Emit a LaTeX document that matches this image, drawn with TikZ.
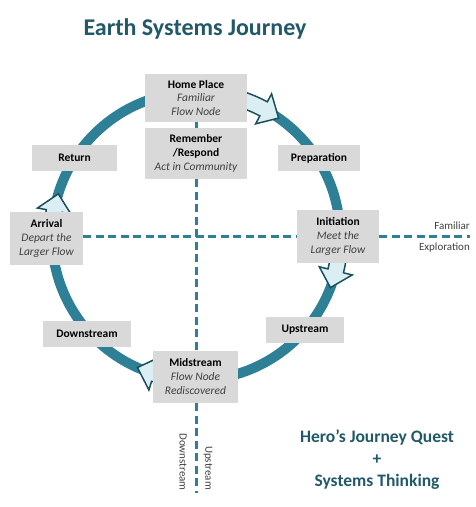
\documentclass[tikz,border=0pt]{standalone}
\usepackage{fontspec}
\setmainfont{Carlito}
\usetikzlibrary{calc}
\definecolor{ringc}{HTML}{2E8096}
\definecolor{titlec}{HTML}{215968}
\definecolor{arrfill}{HTML}{DAEEF3}
\definecolor{arrline}{HTML}{1B4F5C}
\definecolor{boxgray}{HTML}{D9D9D9}
\definecolor{subgray}{HTML}{404040}
\newcommand\subtxt[1]{{\itshape\color{subgray}#1}}
\tikzset{
  box/.style={fill=boxgray, inner sep=0pt, align=center, font=\fontsize{11.5}{14}\selectfont},
  ring/.style={draw=ringc, line width=10pt},
  ringarr/.style={fill=arrfill, draw=arrline, line width=1.5pt, line join=miter},
  dashln/.style={draw=ringc, line width=3pt, dash pattern=on 8pt off 4.5pt},
  sidelbl/.style={font=\fontsize{11}{13}\selectfont, text=subgray, inner sep=0pt},
  bigtitle/.style={font=\fontsize{24}{28}\selectfont\bfseries, text=titlec, inner sep=0pt},
  quest/.style={font=\fontsize{17.5}{22}\selectfont\bfseries, text=titlec, align=center, inner sep=0pt},
}
\newcommand\ringarrow[1]{%
  \draw[ringarr] (#1+16:152pt) arc[start angle=#1+16, end angle=#1+7, radius=152pt]
    -- (#1+7:161pt) -- (#1:144pt) -- (#1+7:127pt) -- (#1+7:136pt)
    arc[start angle=#1+7, end angle=#1+16, radius=136pt] -- cycle;}
\begin{document}
\begin{tikzpicture}[x=1pt,y=1pt]
\useasboundingbox (0,0) rectangle (475,-507);
\node[bigtitle] (title) at (195,-29) {Earth Systems Journey};
% ring
\draw[ring] (196,-236) circle[radius=144pt];
\begin{scope}[shift={(196,-236)}]
  \ringarrow{55}
  \ringarrow{-21}
  \ringarrow{-114}
  \ringarrow{163}
\end{scope}
% boxes
\node[box, minimum width=102pt, minimum height=48pt] (home) at (196,-98)
  {\textbf{Home Place}\\\subtxt{Familiar}\\\subtxt{Flow Node}};
\node[box, minimum width=102pt, minimum height=51pt] (remember) at (196,-153.5)
  {\textbf{Remember}\\\textbf{/Respond}\\\subtxt{Act in Community}};
\node[box, minimum width=82pt, minimum height=26pt] (prep) at (319,-158) {\textbf{Preparation}};
\node[box, minimum width=85pt, minimum height=26pt] (return) at (74.5,-158) {\textbf{Return}};
\node[box, minimum width=73pt, minimum height=53pt] (arrival) at (46.5,-238.5)
  {\textbf{Arrival}\\\subtxt{Depart the}\\\subtxt{Larger Flow}};
\node[box, minimum width=82pt, minimum height=53pt] (init) at (338,-236.5)
  {\textbf{Initiation}\\\subtxt{Meet the}\\\subtxt{Larger Flow}};
\node[box, minimum width=88pt, minimum height=26pt] (down) at (87,-334) {\textbf{Downstream}};
\node[box, minimum width=85pt, minimum height=52pt] (mid) at (195.5,-377)
  {\textbf{Midstream}\\\subtxt{Flow Node}\\\subtxt{Rediscovered}};
\node[box, minimum width=78pt, minimum height=26pt] (up) at (305,-330) {\textbf{Upstream}};
% dashed axes
\coordinate (hend) at (470,-236.5);
\coordinate (vend) at (196,-493);
\draw[dashln] (home.south) -- (remember.north);
\draw[dashln] (remember.south) -- (remember.south |- mid.north);
\draw[dashln] (remember.south |- mid.south) -- (vend);
\draw[dashln] (arrival.east |- init.west) -- (init.west);
\draw[dashln] (init.east) -- (hend);
% axis labels
\node[sidelbl, anchor=east] (fam) at (470,-226) {Familiar};
\node[sidelbl, anchor=east] (expl) at (470,-248) {Exploration};
\node[sidelbl, rotate=-90] (upl) at (208,-468) {Upstream};
\node[sidelbl, rotate=-90] (downl) at (183,-462) {Downstream};
% quest text
\node[quest] (quest) at (377,-460) {Hero’s Journey Quest\\+\\Systems Thinking};
\end{tikzpicture}
\end{document}
